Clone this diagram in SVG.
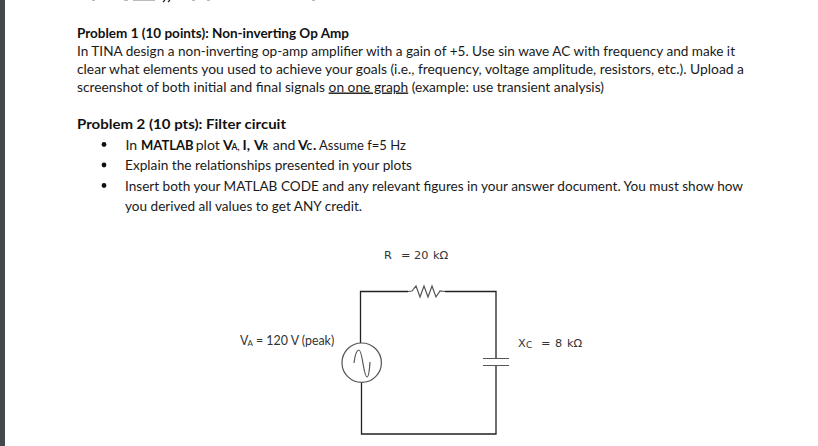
<svg xmlns="http://www.w3.org/2000/svg" width="818" height="446" viewBox="0 0 818 446">
<style>
text{font-family:Lato,"Liberation Sans",sans-serif;font-size:14.1px;fill:#1a1a1a}
.b{font-weight:700;fill:#111}
.s{font-family:"DejaVu Sans",sans-serif;font-size:11.3px;fill:#333}
.l{font-size:12.4px;fill:#333}
.w{fill:none;stroke:#222;stroke-width:1.3}
.g{fill:none;stroke:#555;stroke-width:1.2}
</style>
<rect width="818" height="446" fill="#fff"/>
<rect width="5" height="446" fill="#44484c"/>
<path d="M92 .5h3M124 .5h4M133 .5h22M192 .5h3M207 .5h3M312 .5h3" stroke="#bbb" stroke-width="1" fill="none"/>
<path d="M163 2l2-2M168 2l2-2" stroke="#222" stroke-width="1.200" fill="none"/>
<g id="text">
<text class="b" x="77" y="37.500" textLength="272" lengthAdjust="spacingAndGlyphs">Problem 1 (10 points): Non-inverting Op Amp</text>
<text x="77" y="55.500" textLength="658" lengthAdjust="spacingAndGlyphs">In TINA design a non-inverting op-amp amplifier with a gain of +5. Use sin wave AC with frequency and make it</text>
<text x="77" y="73.500" textLength="667" lengthAdjust="spacingAndGlyphs">clear what elements you used to achieve your goals (i.e., frequency, voltage amplitude, resistors, etc.). Upload a</text>
<text x="77" y="91.500" textLength="527" lengthAdjust="spacingAndGlyphs">screenshot of both initial and final signals <tspan text-decoration="underline">on one graph</tspan> (example: use transient analysis)</text>
<text class="b" x="77" y="129" textLength="209" lengthAdjust="spacingAndGlyphs">Problem 2 (10 pts): Filter circuit</text>
<text y="150"><tspan x="125.500">In</tspan><tspan class="b" x="141" font-size="13">MATLAB</tspan><tspan x="195.700">plot</tspan><tspan class="b" x="223">V</tspan><tspan class="b" x="231.500" font-size="8.500">A,</tspan><tspan class="b" x="242.500">I,</tspan><tspan class="b" x="254">V</tspan><tspan class="b" x="262.500" font-size="8.500">R</tspan><tspan x="272.700">and</tspan><tspan class="b" x="298">V</tspan><tspan class="b" x="306.500" font-size="8.500">C</tspan><tspan class="b" x="313">.</tspan><tspan x="319" font-size="13">Assume f=5 Hz</tspan></text>
<text x="125" y="170" textLength="287" lengthAdjust="spacingAndGlyphs">Explain the relationships presented in your plots</text>
<text x="125" y="190.500" textLength="618" lengthAdjust="spacingAndGlyphs">Insert both your MATLAB CODE and any relevant figures in your answer document. You must show how</text>
<text x="125" y="210.500" textLength="237" lengthAdjust="spacingAndGlyphs">you derived all values to get ANY credit.</text>
<circle cx="104" cy="144.500" r="2.400" fill="#111"/>
<circle cx="104" cy="165" r="2.400" fill="#111"/>
<circle cx="104" cy="185.500" r="2.400" fill="#111"/>
</g>
<g id="connectors">
<path class="w" d="M408 291.500H360.500V343M361.500 382.500V434H496V366M496 358.500V291.500H445"/>
</g>
<g id="resistor"><path class="g" d="M408 291.500L412 291 416 286 420 297 424 286 428 297 432 286 436 297 440 291 445 291.500"/>
<text class="s" y="259"><tspan x="384">R</tspan><tspan x="401">=</tspan><tspan x="414">20</tspan><tspan x="433">kΩ</tspan></text></g>
<g id="capacitor"><path class="g" d="M483 358.500H509M483 365.500H509"/>
<text class="s" y="346.500"><tspan x="518">X</tspan><tspan x="526" font-size="9" dy="1">C</tspan><tspan x="541" dy="-1">=</tspan><tspan x="555">8</tspan><tspan x="567">kΩ</tspan></text></g>
<g id="source"><circle class="g" cx="361.700" cy="362.700" r="19.700"/>
<path class="g" d="M354 363C355 355 357 350 359 350C362.500 350 363.500 377 367 377C368.500 377 369.500 370 370 362"/>
<text class="l" y="345"><tspan x="240">V</tspan><tspan x="247.500" font-size="8" dy="1">A</tspan><tspan x="256" dy="-1">= 120 V (peak)</tspan></text></g>
</svg>
